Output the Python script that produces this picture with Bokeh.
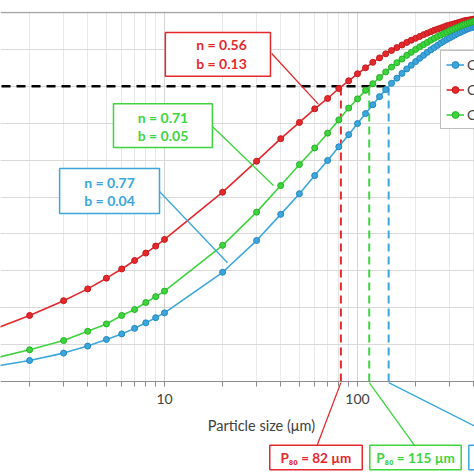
from bokeh.plotting import figure
from bokeh.models import (Range1d, FixedTicker, Grid, Span, Legend, LegendItem,
                          Label, BoxAnnotation, Arrow, ColumnDataSource)
from bokeh.embed import file_html
from bokeh.resources import INLINE

# ---------------- data ----------------
sizes = [1, 2, 3, 4, 5, 6, 7, 8, 9, 10,
         20, 30, 40, 50, 60, 70, 80, 90, 100, 110, 120,
         130, 140, 150, 160, 170, 180, 190, 200, 210, 220,
         230, 240, 250, 260, 270, 280, 290, 300, 310, 320,
         330, 340, 350, 360, 370, 380, 390, 400, 410, 420]

red_pass = [11.8, 17.9, 21.9, 25.1, 28.0, 30.5, 32.8, 34.8, 36.7, 38.5,
            51.3, 59.7, 65.8, 70.2, 73.9, 76.7, 79.4, 81.5, 83.4, 85.0, 86.5,
            87.7, 88.8, 89.7, 90.5, 91.2, 91.9, 92.5, 93.0, 93.5, 94.0,
            94.4, 94.8, 95.2, 95.5, 95.8, 96.1, 96.4, 96.6, 96.8, 97.0,
            97.2, 97.4, 97.6, 97.8, 97.9, 98.0, 98.1, 98.2, 98.3, 98.4]

green_pass = [4.8, 8.6, 11.1, 13.6, 15.6, 17.9, 19.5, 21.4, 23.0, 24.5,
              36.9, 45.9, 53.1, 58.8, 63.3, 67.3, 70.9, 74.1, 76.6, 78.9, 80.7,
              82.4, 83.9, 85.2, 86.4, 87.4, 88.4, 89.2, 90.0, 90.7, 91.3,
              91.9, 92.5, 93.0, 93.5, 93.9, 94.3, 94.7, 95.1, 95.4, 95.7,
              96.0, 96.3, 96.6, 96.8, 97.0, 97.2, 97.4, 97.6, 97.8, 97.9]

blue_pass = [3.0, 5.7, 7.7, 9.6, 11.4, 12.9, 14.4, 15.9, 17.3, 18.6,
             29.6, 38.2, 45.3, 50.9, 55.8, 59.9, 63.6, 66.9, 69.9, 72.6, 75.0,
             77.2, 79.1, 80.8, 82.2, 83.5, 84.7, 85.7, 86.7, 87.6, 88.4,
             89.2, 89.9, 90.5, 91.1, 91.7, 92.2, 92.7, 93.1, 93.5, 93.9,
             94.3, 94.6, 94.9, 95.2, 95.5, 95.7, 95.9, 96.1, 96.3, 96.5]

series_names = ["Case 1", "Case 2", "Case 3"]   # blue, red, green (legend order)
p80_values = [82, 115, 145]                      # red, green, blue
p80_level = 80
n_params = ["0.56", "0.71", "0.77"]
b_params = ["0.13", "0.05", "0.04"]
x_ticks = [10, 100]
x_minor = [2, 3, 4, 5, 6, 7, 8, 9, 20, 30, 40, 50, 60, 70, 80, 90,
           200, 300, 400]
y_grid = [10, 20, 30, 40, 50, 60, 70, 80, 90]

RED, RED_D = "#e5282c", "#c41a1e"
GREEN, GREEN_D = "#3ed43e", "#25b025"
BLUE, BLUE_D = "#3ba6dc", "#2387bf"
FONT = "Lato"

p = figure(width=474, height=474, x_axis_type="log", y_axis_location=None,
           x_range=Range1d(1.4131, 403.8), y_range=Range1d(-25.2, 100.27),
           output_backend="svg", toolbar_location=None,
           min_border_left=0, min_border_right=0, min_border_top=11,
           min_border_bottom=0)
p.outline_line_color = None
p.background_fill_color = "white"
p.border_fill_color = "white"

# axes / grids
ax = p.xaxis[0]
ax.fixed_location = 0
ax.ticker = FixedTicker(ticks=x_ticks, minor_ticks=x_minor)
ax.major_label_overrides = {10: "10", 100: "100"}
ax.axis_line_color = "#8c8c8c"
ax.major_tick_line_color = "#8c8c8c"
ax.minor_tick_line_color = "#8c8c8c"
ax.major_tick_in = 0
ax.major_tick_out = 5
ax.minor_tick_in = 0
ax.minor_tick_out = 5
ax.major_label_text_font = FONT
ax.major_label_text_font_size = "14px"
ax.major_label_text_color = "#404040"
ax.major_label_standoff = 7

p.xgrid.grid_line_color = "#d4d4d4"
p.xgrid.minor_grid_line_color = "#e8e8e8"
p.add_layout(Grid(dimension=1, ticker=FixedTicker(ticks=y_grid),
                  grid_line_color="#d9d9d9"))
# white cover for the grid below the axis
p.add_layout(BoxAnnotation(top=0, fill_color="white", fill_alpha=1,
                           line_alpha=0, level="underlay"))
p.add_layout(Span(location=100, dimension="width", line_color="#a6a6a6",
                  line_width=1.5))

# P80 reference lines
p.segment(x0=[min(sizes)], y0=[p80_level], x1=[p80_values[2]], y1=[p80_level],
          line_color="black", line_width=2.5, line_dash="9 6")
for xv, col in zip(p80_values, [RED, GREEN, BLUE]):
    p.segment(x0=[xv], y0=[0], x1=[xv], y1=[p80_level], line_color=col,
              line_width=2, line_dash="8 5")

# curves
src = ColumnDataSource(dict(x=sizes, r=red_pass, g=green_pass, b=blue_pass))
items = []
for key, col, dark in [("b", BLUE, BLUE_D), ("r", RED, RED_D), ("g", GREEN, GREEN_D)]:
    l = p.line("x", key, source=src, line_color=col, line_width=1.6)
    s = p.scatter("x", key, source=src, size=6, fill_color=col,
                  line_color=dark, line_width=1)
    items.append((l, s))

legend = Legend(items=[LegendItem(label=series_names[i], renderers=list(items[i]))
                       for i in range(3)],
                location=(440, 345), orientation="vertical")
legend.label_text_font = FONT
legend.label_text_font_size = "14px"
legend.label_text_color = "#404040"
legend.border_line_color = "#7f7f7f"
legend.border_line_width = 1.5
legend.padding = 5
legend.margin = 0
legend.spacing = 8
legend.glyph_height = 17
legend.glyph_width = 18
legend.label_standoff = 3
p.add_layout(legend, "center")

# parameter boxes (inside plot)
param_boxes = [
    (RED, 10.10, 35.4, 94.6, 82.7, 19.74, 91.3, 86.2, (35.9, 88.9, 62.8, 75.1)),
    (GREEN, 5.44, 17.7, 75.3, 63.4, 9.82, 71.5, 66.7, (17.7, 69.1, 36.7, 53.1)),
    (BLUE, 2.86, 9.42, 57.7, 45.5, 5.19, 53.9, 49.1, (9.42, 51.5, 21.2, 32.2)),
]
for i, (col, l, r, t, b, cx, y1, y2, lead) in enumerate(param_boxes):
    p.add_layout(Arrow(end=None, x_start=lead[0], y_start=lead[1],
                       x_end=lead[2], y_end=lead[3], line_color=col,
                       line_width=1.3))
    p.add_layout(BoxAnnotation(left=l, right=r, top=t, bottom=b,
                               fill_color="white", fill_alpha=1,
                               line_color=col, line_width=1.5, line_alpha=1))
    for yy, txt in [(y1, f"n = {n_params[i]}"), (y2, f"b = {b_params[i]}")]:
        p.add_layout(Label(x=cx, y=yy, text=txt, text_align="center",
                           text_baseline="middle", text_font=FONT,
                           text_font_size="14px", text_font_style="bold",
                           text_color=col))

# axis title
p.add_layout(Label(x=31.8, y=-11.9, text="Particle size (μm)", text_align="center",
                   text_baseline="middle", text_font=FONT, text_font_size="14.5px",
                   text_color="#404040"))

# P80 boxes below the axis
p80_boxes = [
    (RED, 35.1, 105.8, 60.9, (82, -0.3, 61.8, -17.3)),
    (GREEN, 115.8, 344.6, 199.8, (115, -0.3, 197.4, -17.3)),
    (BLUE, 377.3, 1200.0, 670.0, (145, -0.3, 699.0, -18.4)),
]
for i, (col, l, r, cx, lead) in enumerate(p80_boxes):
    p.add_layout(Arrow(end=None, x_start=lead[0], y_start=lead[1],
                       x_end=lead[2], y_end=lead[3], line_color=col,
                       line_width=1.3))
    p.add_layout(BoxAnnotation(left=l, right=r, top=-17.3, bottom=-23.9,
                               fill_color="white", fill_alpha=1,
                               line_color=col, line_width=1.5, line_alpha=1))
    p.add_layout(Label(x=cx, y=-20.6, text=f"P₈₀ = {p80_values[i]} µm",
                       text_align="center", text_baseline="middle",
                       text_font=FONT, text_font_size="13.5px",
                       text_font_style="bold", text_color=col))

open("out.html", "w").write(file_html(p, INLINE))
